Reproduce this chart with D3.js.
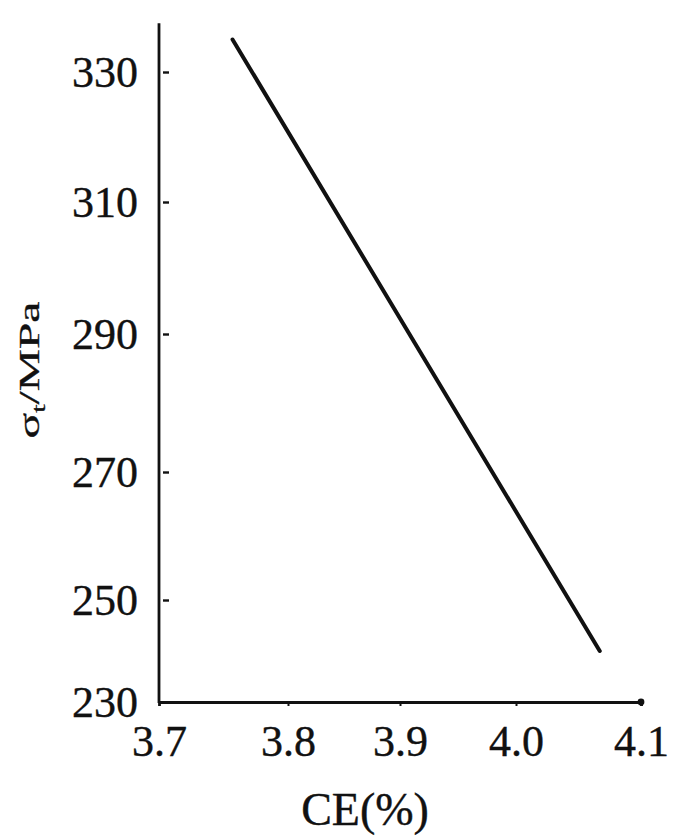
<!DOCTYPE html>
<html>
<head>
<meta charset="utf-8">
<script src="https://cdn.jsdelivr.net/npm/d3@7"></script>
<style>
  html, body { margin: 0; padding: 0; background: #fff; }
  svg { display: block; }
</style>
</head>
<body>
<div id="chart"></div>
<script>
// ---- data ----
const xTicks = [3.7, 3.8, 3.9, 4.0, 4.1];
const xTickLabels = ["3.7", "3.8", "3.9", "4.0", "4.1"];
const yTicks = [230, 250, 270, 290, 310, 330];
const yTickLabels = ["230", "250", "270", "290", "310", "330"];
const ceValues = [3.757, 4.067];
const sigmaValues = [335, 240];
const yAxisTop = 337.5;
const xLabel = "CE(%)";

// ---- layout ----
const W = 691, H = 836;
// scanned figure has slightly uneven tick spacing -> piecewise linear scales
const xRange = [159, 288, 400, 516, 641];
const yRange = [702, 600, 472, 334, 202, 72];

const svg = d3.select("#chart").append("svg")
  .attr("width", W).attr("height", H);

const x = d3.scaleLinear().domain(xTicks).range(xRange);
const y = d3.scaleLinear().domain(yTicks).range(yRange);

const font = "'Liberation Serif', 'DejaVu Serif', serif";

// X axis
const xAxis = d3.axisBottom(x).tickValues(xTicks)
  .tickFormat((d, i) => xTickLabels[i]).tickSize(4).tickPadding(19);
const gx = svg.append("g").attr("transform", `translate(0,${y(230)})`).call(xAxis);
gx.select(".domain").attr("stroke", "#111").attr("stroke-width", 2.8);
gx.selectAll(".tick line").attr("stroke", "#111").attr("stroke-width", 2)
  .attr("opacity", (d, i) => (i === 0 ? 0 : 1));
gx.selectAll(".tick text").attr("font-family", font).attr("font-size", 44)
  .attr("fill", "#111").attr("stroke", "#111").attr("stroke-width", 0.4);
svg.append("circle").attr("cx", x(4.1)).attr("cy", y(230)).attr("r", 3.4).attr("fill", "#111");

// Y axis
const yAxis = d3.axisLeft(y).tickValues(yTicks)
  .tickFormat((d, i) => yTickLabels[i]).tickSizeInner(-10).tickSizeOuter(0).tickPadding(21);
const gy = svg.append("g").attr("transform", `translate(${x(3.7)},0)`).call(yAxis);
gy.select(".domain").remove();
gy.append("line").attr("x1", 0).attr("x2", 0)
  .attr("y1", y(230) + 1).attr("y2", y(yAxisTop))
  .attr("stroke", "#111").attr("stroke-width", 2.8);
gy.selectAll(".tick line").attr("stroke", "#111").attr("stroke-width", 2.4)
  .attr("x1", 4)
  .attr("opacity", (d, i) => (i === 0 ? 0 : 1));
gy.selectAll(".tick text").attr("font-family", font).attr("font-size", 44)
  .attr("fill", "#111").attr("stroke", "#111").attr("stroke-width", 0.4);

// Line
const pts = ceValues.map((c, i) => [c, sigmaValues[i]]);
svg.append("path").datum(pts)
  .attr("fill", "none").attr("stroke", "#111").attr("stroke-width", 4)
  .attr("stroke-linecap", "round")
  .attr("d", d3.line().x(d => x(d[0])).y(d => y(d[1])));

// X label
svg.append("text").attr("x", 365).attr("y", 825)
  .attr("text-anchor", "middle").attr("font-family", font).attr("font-size", 46)
  .attr("fill", "#111").attr("stroke", "#111").attr("stroke-width", 0.4)
  .text(xLabel);

// Y label: σ_t/MPa
const yl = svg.append("text")
  .attr("transform", "translate(39,370) rotate(-90) scale(1.25,0.8)")
  .attr("text-anchor", "middle").attr("font-family", font).attr("font-size", 38)
  .attr("fill", "#111").attr("stroke", "#111").attr("stroke-width", 0.4);
yl.append("tspan").text("σ");
yl.append("tspan").attr("font-size", 24).attr("dy", 8).text("t");
yl.append("tspan").attr("dy", -8).text("/MPa");
</script>
</body>
</html>
